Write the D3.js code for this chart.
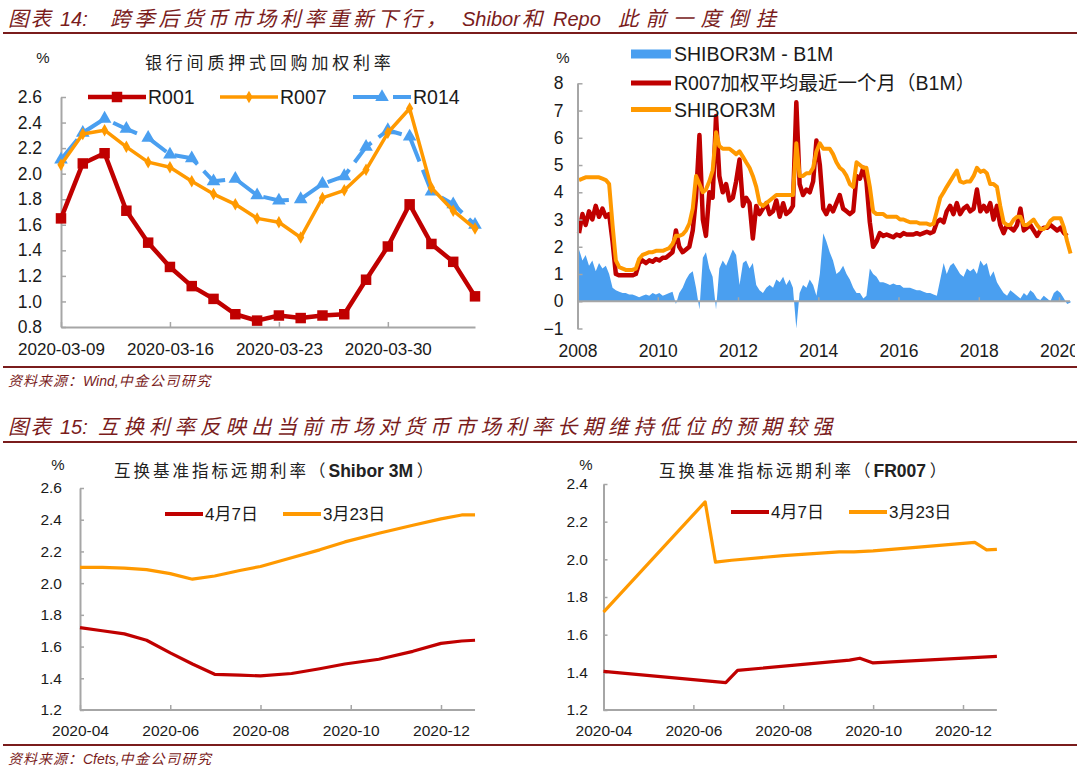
<!DOCTYPE html>
<html><head><meta charset="utf-8">
<script src="https://cdn.jsdelivr.net/npm/d3@7"></script>
<style>
body{margin:0;background:#fff;}
svg{display:block;}
</style></head><body>
<svg id="c" width="1080" height="770"></svg>
<script>
// ---------- DATA ----------
// Panel 1: 银行间质押式回购加权利率
const repoDates = ["2020-03-09","2020-03-10","2020-03-11","2020-03-12","2020-03-13",
  "2020-03-16","2020-03-17","2020-03-18","2020-03-19","2020-03-20",
  "2020-03-23","2020-03-24","2020-03-25","2020-03-26","2020-03-27",
  "2020-03-30","2020-03-31","2020-04-01","2020-04-02","2020-04-03"];
const r001 = [1.65,2.08,2.16,1.71,1.46,1.27,1.12,1.02,0.90,0.85,0.89,0.87,0.89,0.90,1.17,1.43,1.76,1.45,1.31,1.04];
const r007 = [2.07,2.31,2.34,2.21,2.09,2.05,1.94,1.84,1.76,1.65,1.62,1.50,1.81,1.87,2.03,2.32,2.51,1.89,1.71,1.57];
const r014 = [2.11,2.32,2.43,2.35,2.28,2.15,2.12,1.94,1.96,1.83,1.79,1.80,1.92,1.98,2.21,2.34,2.29,1.86,1.76,1.60];
const repoTickLabels = ["2020-03-09","2020-03-16","2020-03-23","2020-03-30"];
const repoYTicks = [0.8,1.0,1.2,1.4,1.6,1.8,2.0,2.2,2.4,2.6];

// Panel 2: monthly (mid-month) from 2008-01
const startYear2 = 2008;
const shibor3m = [
  4.45,4.50,4.55,4.55,4.55,4.55,4.55,4.50,4.45,4.30,2.80,1.50,
  1.25,1.20,1.15,1.15,1.15,1.20,1.55,1.70,1.75,1.80,1.80,1.85,
  1.85,1.85,1.90,1.95,2.10,2.40,2.40,2.45,2.60,2.85,3.40,4.60,
  4.30,4.00,4.10,4.40,4.80,6.20,5.70,5.60,5.60,5.60,5.50,5.40,
  5.50,5.30,5.10,4.90,4.60,4.20,3.60,3.50,3.60,3.70,3.80,3.90,
  3.90,3.90,3.90,3.90,3.90,5.80,4.60,4.60,4.70,4.70,4.90,5.50,
  5.80,5.60,5.60,5.60,5.40,5.10,4.90,4.80,4.60,4.30,4.20,5.10,
  5.00,4.90,4.90,4.20,3.30,3.20,3.20,3.20,3.10,3.10,3.10,3.10,
  3.00,3.00,2.95,2.90,2.90,2.90,2.85,2.85,2.85,2.80,2.85,3.30,
  3.80,4.00,4.20,4.40,4.60,4.80,4.40,4.35,4.40,4.40,4.60,4.90,
  4.75,4.80,4.70,4.30,4.30,4.20,3.50,2.90,2.80,2.80,3.00,3.10,
  3.10,2.80,2.80,2.90,3.00,2.80,2.65,2.65,2.75,2.95,3.05,3.05,
  3.05,2.70,2.20,1.75];
const r007b1m = [
  2.50,3.20,2.80,3.30,3.00,3.50,3.10,3.40,3.10,3.20,2.20,1.00,
  0.95,0.95,0.95,0.95,0.95,1.00,1.40,1.50,1.40,1.50,1.45,1.55,
  1.50,1.60,1.60,1.70,1.80,2.60,2.00,1.80,1.90,2.00,2.60,3.80,
  6.10,3.00,2.40,4.00,3.80,6.80,4.60,4.00,4.30,3.70,3.80,4.40,
  5.20,3.50,3.80,3.60,2.30,3.50,3.20,3.40,3.60,3.20,3.30,3.70,
  3.10,3.60,3.20,3.30,3.50,7.30,4.30,3.90,4.10,4.00,4.40,5.90,
  5.00,3.40,3.20,3.50,3.30,3.60,3.90,3.40,3.30,3.20,3.30,4.60,
  4.50,4.90,4.40,2.90,2.00,2.20,2.50,2.40,2.45,2.40,2.35,2.45,
  2.40,2.50,2.45,2.45,2.45,2.50,2.45,2.50,2.55,2.50,2.55,2.90,
  3.00,2.90,3.30,3.50,3.20,3.60,3.20,3.40,3.50,3.30,3.40,4.10,
  3.30,3.50,3.30,3.60,3.00,3.50,2.80,2.50,2.80,2.70,2.60,2.80,
  3.40,2.60,2.70,2.80,2.60,2.40,2.60,2.70,2.70,2.80,2.70,2.60,
  2.70,2.50,2.40];
const spreadB1M = [
  1.90,1.50,1.70,1.30,1.50,1.10,1.40,1.20,1.30,1.00,0.50,0.40,
  0.35,0.30,0.30,0.25,0.25,0.20,0.15,0.20,0.25,0.20,0.30,0.25,
  0.30,0.20,0.25,0.30,0.35,-0.10,0.30,0.50,0.80,1.00,1.10,0.50,
  -0.30,1.60,1.80,1.20,0.90,-0.30,1.20,1.50,1.30,1.60,1.90,1.70,
  0.60,1.40,1.50,1.20,1.40,0.60,0.40,0.30,0.50,0.60,0.50,0.80,
  0.70,0.90,0.60,0.80,0.50,-1.00,0.30,0.60,0.50,0.80,0.60,0.20,
  1.00,2.50,2.20,1.80,1.50,1.00,1.10,1.30,1.00,0.80,0.50,0.30,
  0.30,0.10,0.20,1.20,1.00,0.90,0.70,0.70,0.65,0.60,0.65,0.60,
  0.60,0.50,0.50,0.50,0.45,0.40,0.40,0.35,0.30,0.30,0.25,0.20,
  0.80,1.40,1.00,1.30,1.40,1.20,1.00,0.90,1.20,1.10,1.20,1.00,
  1.50,1.30,1.40,0.90,1.10,0.70,0.50,0.30,0.20,0.40,0.30,0.20,
  0.10,0.30,0.20,0.40,0.30,0.10,0.05,0.20,0.10,0.00,0.30,0.40,
  0.30,0.10,-0.10,-0.05];
const p2YTicks = [-1,0,1,2,3,4,5,6,7,8];
const p2XTicks = ["2008","2010","2012","2014","2016","2018","2020"];

// Panel 3: 互换基准指标远期利率（Shibor 3M）
const shiborSwapDates = ["2020-04-01","2020-04-16","2020-05-01","2020-05-16","2020-06-01","2020-06-16",
  "2020-07-01","2020-07-18","2020-08-01","2020-08-22","2020-09-10","2020-09-27","2020-10-20",
  "2020-11-12","2020-12-01","2020-12-15","2020-12-24"];
const shiborSwapApr7 = [1.72,1.70,1.68,1.64,1.56,1.49,1.425,1.42,1.415,1.43,1.46,1.49,1.52,1.57,1.62,1.635,1.64];
const shiborSwapMar23 = [2.10,2.10,2.095,2.085,2.06,2.025,2.045,2.08,2.105,2.16,2.21,2.26,2.315,2.365,2.405,2.43,2.43];
const p3YTicks = [1.2,1.4,1.6,1.8,2.0,2.2,2.4,2.6];

// Panel 4: 互换基准指标远期利率（FR007）
const frDatesMar23 = ["2020-04-01","2020-06-09","2020-06-16","2020-06-27","2020-08-01","2020-09-08","2020-09-18","2020-10-01","2020-11-01","2020-12-09","2020-12-17","2020-12-24"];
const frMar23 = [1.72,2.305,1.985,1.995,2.02,2.04,2.04,2.045,2.065,2.09,2.05,2.053];
const frDatesApr7 = ["2020-04-01","2020-06-23","2020-07-01","2020-09-15","2020-09-22","2020-10-01","2020-12-24"];
const frApr7 = [1.405,1.345,1.41,1.465,1.475,1.45,1.485];
const p4YTicks = [1.2,1.4,1.6,1.8,2.0,2.2,2.4];
const swapXTicks = ["2020-04","2020-06","2020-08","2020-10","2020-12"];

// ---------- STYLE ----------
const MAROON = "#7a1c1c", RED = "#c00000", ORANGE = "#ff9900", BLUE = "#4a9ff0";
const AXIS = "#a6a6a6", TXT = "#1a1a1a";
const CJK = "'Noto Sans CJK SC', sans-serif";
const LAT = "'Liberation Sans', Arial, 'Noto Sans CJK SC', sans-serif";
const parse = d3.timeParse("%Y-%m-%d");
const parseM = d3.timeParse("%Y-%m");

const svg = d3.select("#c");
svg.append("rect").attr("width",1080).attr("height",770).attr("fill","#fff");

function rule(y){
  svg.append("line").attr("x1",3).attr("x2",1077).attr("y1",y).attr("y2",y)
    .attr("stroke",MAROON).attr("stroke-width",2);
}
function header(y, segs){
  segs.forEach(s=>{
    svg.append("text").attr("x",s.x).attr("y",y)
      .attr("font-family", s.cjk?CJK:LAT).attr("font-size",s.cjk?20.5:20)
      .attr("font-style","italic").attr("letter-spacing", s.cjk?(s.ls||4.6):0)
      .attr("fill",MAROON).text(s.t);
  });
}
function footer(y, src){
  const t = svg.append("text").attr("x",8).attr("y",y).attr("font-size",14)
    .attr("font-style","italic").attr("fill",MAROON);
  t.append("tspan").attr("font-family",CJK).attr("letter-spacing",1).text("资料来源：");
  t.append("tspan").attr("font-family",LAT).text(src);
  t.append("tspan").attr("font-family",CJK).attr("letter-spacing",1.5).text("中金公司研究");
}
function styleAxis(g, fs){
  g.select(".domain").attr("stroke",AXIS).attr("stroke-width",2);
  g.selectAll(".tick line").attr("stroke",AXIS).attr("stroke-width",1.5);
  g.selectAll(".tick text").attr("fill",TXT).attr("font-size",fs).attr("font-family",LAT);
}
function pct(x,y){
  svg.append("text").attr("x",x).attr("y",y).attr("text-anchor","middle")
    .attr("dominant-baseline","central").attr("font-family",LAT).attr("font-size",15)
    .attr("fill",TXT).text("%");
}

// ---------- HEADERS ----------
header(26,[{t:"图表",x:8,cjk:true,ls:2},{t:"14:",x:60},{t:"跨季后货币市场利率重新下行，",x:110,cjk:true,ls:3.8},
  {t:"Shibor",x:462},{t:"和",x:522,cjk:true},{t:"Repo",x:553},{t:"此前一度倒挂",x:618,cjk:true,ls:7}]);
rule(33);
rule(367);
footer(386,"Wind,");
header(434,[{t:"图表",x:8,cjk:true,ls:2},{t:"15:",x:60},{t:"互换利率反映出当前市场对货币市场利率长期维持低位的预期较强",x:98,cjk:true,ls:5}]);
rule(442);
rule(745);
footer(764,"Cfets,");

// ---------- PANEL 1 ----------
{
  const x = d3.scalePoint().domain(repoDates).range([61,475]);
  const y = d3.scaleLinear().domain([0.8,2.6]).range([327,97]);
  const gy = svg.append("g").attr("transform","translate(61,0)")
    .call(d3.axisLeft(y).tickValues(repoYTicks).tickFormat(d3.format(".1f")).tickSize(-5).tickSizeOuter(0).tickPadding(19));
  styleAxis(gy,17.5);
  const gx = svg.append("g").attr("transform","translate(0,327)")
    .call(d3.axisBottom(x).tickValues(repoTickLabels).tickSize(-5).tickSizeOuter(0).tickPadding(16));
  styleAxis(gx,17);
  pct(43,57);
  svg.append("text").attr("x",145).attr("y",69).attr("font-family",CJK).attr("font-size",17)
    .attr("letter-spacing",3.8).attr("fill","#222").text("银行间质押式回购加权利率");

  const line = d3.line().x((d,i)=>x(repoDates[i])).y(d=>y(d));
  const series = [
    {v:r001,c:RED,w:4.5,dash:null,sym:d3.symbolSquare,size:110,name:"R001",lx:88},
    {v:r007,c:ORANGE,w:3.5,dash:null,sym:d3.symbolDiamond,size:45,name:"R007",lx:220},
    {v:r014,c:BLUE,w:4,dash:"26,9",sym:d3.symbolTriangle,size:80,name:"R014",lx:353}
  ];
  [series[2],series[1],series[0]].forEach(s=>{
    svg.append("path").datum(s.v).attr("d",line).attr("fill","none").attr("stroke",s.c)
      .attr("stroke-width",s.w).attr("stroke-dasharray",s.dash).attr("stroke-linejoin","round");
    svg.append("g").selectAll("path").data(s.v).join("path")
      .attr("transform",(d,i)=>`translate(${x(repoDates[i])},${y(d)})`)
      .attr("d",d3.symbol().type(s.sym).size(s.size)).attr("fill",s.c);
  });
  series.forEach(s=>{
    svg.append("line").attr("x1",s.lx).attr("x2",s.lx+58).attr("y1",97).attr("y2",97)
      .attr("stroke",s.c).attr("stroke-width",s.w).attr("stroke-dasharray",s.dash?"30,10":null);
    svg.append("path").attr("transform",`translate(${s.lx+29},97)`)
      .attr("d",d3.symbol().type(s.sym).size(s.size)).attr("fill",s.c);
    svg.append("text").attr("x",s.lx+60).attr("y",97).attr("dominant-baseline","central")
      .attr("font-family",LAT).attr("font-size",19.5).attr("fill",TXT).text(s.name);
  });
}

// ---------- PANEL 2 ----------
{
  const defs = svg.append("defs");
  defs.append("clipPath").attr("id","clip2").append("rect").attr("x",540).attr("y",40).attr("width",535).attr("height",325);
  const g = svg.append("g").attr("clip-path","url(#clip2)");
  const x = d3.scaleTime().domain([new Date(2008,0,1), new Date(2020,0,1)]).range([577.5,1059]);
  const y = d3.scaleLinear().domain([-1,8]).range([328.5,83.3]);
  const dt = i => new Date(startYear2, i, 15);
  g.append("path").datum(spreadB1M)
    .attr("d", d3.area().x((d,i)=>x(dt(i))).y0(y(0)).y1(d=>y(d)))
    .attr("fill",BLUE);
  const ln = d3.line().x((d,i)=>x(dt(i))).y(d=>y(d));
  g.append("path").datum(r007b1m).attr("d",ln).attr("fill","none").attr("stroke",RED)
    .attr("stroke-width",4.5).attr("stroke-linejoin","round");
  g.append("path").datum(shibor3m).attr("d",ln).attr("fill","none").attr("stroke",ORANGE)
    .attr("stroke-width",4).attr("stroke-linejoin","round");

  const gy = g.append("g").attr("transform","translate(577.5,0)")
    .call(d3.axisLeft(y).tickValues(p2YTicks).tickFormat(d3.format("d")).tickSize(-5).tickSizeOuter(0).tickPadding(14));
  styleAxis(gy,17.5);
  g.append("line").attr("x1",577.5).attr("x2",1070).attr("y1",y(0)).attr("y2",y(0))
    .attr("stroke",AXIS).attr("stroke-width",2);
  const gx = g.append("g").attr("transform",`translate(0,${y(0)})`)
    .call(d3.axisBottom(x).tickValues(p2XTicks.map(s=>new Date(+s,0,1))).tickFormat(d3.timeFormat("%Y"))
      .tickSize(-4).tickSizeOuter(0).tickPadding(43));
  styleAxis(gx,17.5);
  gx.select(".domain").remove();
  pct(563,57);

  const lg = [
    {t:"SHIBOR3M - B1M",y:54,type:"rect",c:BLUE},
    {t:"R007加权平均最近一个月（B1M）",y:83,type:"line",c:RED},
    {t:"SHIBOR3M",y:109.5,type:"line",c:ORANGE}];
  lg.forEach(l=>{
    if(l.type==="rect") g.append("rect").attr("x",631).attr("y",l.y-4.5).attr("width",40).attr("height",9).attr("fill",l.c);
    else g.append("line").attr("x1",631).attr("x2",671).attr("y1",l.y).attr("y2",l.y).attr("stroke",l.c).attr("stroke-width",5);
    g.append("text").attr("x",674).attr("y",l.y).attr("dominant-baseline","central")
      .attr("font-family",LAT).attr("font-size",19.5).attr("fill",TXT).text(l.t);
  });
}

// ---------- PANELS 3 & 4 ----------
function swapPanel(o){
  const x = d3.scaleTime().domain([parseM("2020-04"), parseM("2020-12")]).range([o.x0,o.x1]);
  const y = d3.scaleLinear().domain(o.ydom).range([710,o.ytop]);
  const xEnd = x(parse("2020-12-24"));
  const gy = svg.append("g").attr("transform",`translate(${o.x0},0)`)
    .call(d3.axisLeft(y).tickValues(o.yticks).tickFormat(d3.format(".1f")).tickSize(-4).tickSizeOuter(0).tickPadding(o.ypad));
  styleAxis(gy,15.5);
  const gx = svg.append("g").attr("transform","translate(0,710)")
    .call(d3.axisBottom(x).tickValues(swapXTicks.map(parseM)).tickFormat(d3.timeFormat("%Y-%m")).tickSize(-5).tickSizeOuter(0).tickPadding(14.5));
  styleAxis(gx,15.5);
  gx.select(".domain").remove();
  svg.append("line").attr("x1",o.x0).attr("x2",xEnd).attr("y1",710).attr("y2",710).attr("stroke",AXIS).attr("stroke-width",2);
  pct(o.pctx,464);
  const t = svg.append("text").attr("x",o.tx).attr("y",477).attr("fill","#222").attr("font-size",16.5);
  t.append("tspan").attr("font-family",CJK).attr("letter-spacing",3).text("互换基准指标远期利率（");
  t.append("tspan").attr("font-family",LAT).attr("font-weight","bold").attr("font-size",17.5).text(o.tname);
  t.append("tspan").attr("font-family",CJK).text(" ）");
  o.series.forEach(s=>{
    svg.append("path").datum(s.v)
      .attr("d",d3.line().x((d,i)=>x(parse(s.d[i]))).y(d=>y(d)))
      .attr("fill","none").attr("stroke",s.c).attr("stroke-width",3.2).attr("stroke-linejoin","round");
  });
  o.legend.forEach(l=>{
    svg.append("line").attr("x1",l.x).attr("x2",l.x+38).attr("y1",o.ly).attr("y2",o.ly).attr("stroke",l.c).attr("stroke-width",4);
    svg.append("text").attr("x",l.x+40).attr("y",o.ly).attr("dominant-baseline","central")
      .attr("font-family",LAT).attr("font-size",17).attr("fill",TXT).text(l.t);
  });
}
swapPanel({x0:80,x1:441,ydom:[1.2,2.6],ytop:488,yticks:p3YTicks,ypad:18,pctx:58,tx:114,tname:"Shibor 3M",
  series:[{d:shiborSwapDates,v:shiborSwapApr7,c:RED},{d:shiborSwapDates,v:shiborSwapMar23,c:ORANGE}],
  ly:514,legend:[{x:165,c:RED,t:"4月7日"},{x:283,c:ORANGE,t:"3月23日"}]});
swapPanel({x0:603.5,x1:963,ydom:[1.2,2.4],ytop:484,yticks:p4YTicks,ypad:15.5,pctx:586,tx:659,tname:"FR007",
  series:[{d:frDatesApr7,v:frApr7,c:RED},{d:frDatesMar23,v:frMar23,c:ORANGE}],
  ly:512,legend:[{x:731,c:RED,t:"4月7日"},{x:849,c:ORANGE,t:"3月23日"}]});
</script>
</body></html>
